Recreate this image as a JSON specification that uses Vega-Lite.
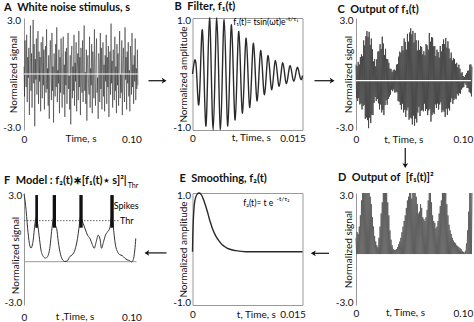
{
"$schema": "https://vega.github.io/schema/vega-lite/v6.json",
"padding": {"left": 2, "top": 0, "right": 0, "bottom": 0},
"columns": 3,
"spacing": {"row": 63, "column": 53.5},
"bounds": "flush",
"config": {
 "font": "Lato",
 "view": {"stroke": null},
 "axis": {"labelFont": "Lato", "labelFontSize": 10, "labelColor": "#111", "titleFont": "Lato", "titleFontSize": 10, "titleFontWeight": "normal", "titleColor": "#111", "grid": false, "ticks": false, "labelFlush": false, "labelOverlap": false},
 "axisY": {"labelFlush": true, "labelFlushOffset": 2.5},
 "title": {"font": "Lato", "fontSize": 11, "fontWeight": "bold", "anchor": "start", "frame": "group", "color": "#111", "baseline": "alphabetic"}
},
"datasets": {
 "noise": [
{"t":0,"v":0.4},{"t":0.5,"v":-1.2},{"t":1,"v":1.8},{"t":1.5,"v":0.3},{"t":2,"v":-0.7},{"t":2.5,"v":2.1},{"t":3,"v":-1.5},{"t":3.5,"v":0.9},{"t":4,"v":-0.2},{"t":4.5,"v":1.4},
{"t":5,"v":-2.2},{"t":5.5,"v":0.6},{"t":6,"v":2.6},{"t":6.5,"v":-0.9},{"t":7,"v":1.1},{"t":7.5,"v":-1.8},{"t":8,"v":0.2},{"t":8.5,"v":2.9},{"t":9,"v":-0.5},{"t":9.5,"v":1.6},
{"t":10,"v":-2.8},{"t":10.5,"v":0.8},{"t":11,"v":-0.3},{"t":11.5,"v":1.9},{"t":12,"v":-1.1},{"t":12.5,"v":0.5},{"t":13,"v":2.3},{"t":13.5,"v":-1.6},{"t":14,"v":1.2},{"t":14.5,"v":-0.4},
{"t":15,"v":0.9},{"t":15.5,"v":-2.0},{"t":16,"v":1.7},{"t":16.5,"v":0.1},{"t":17,"v":-1.3},{"t":17.5,"v":2.0},{"t":18,"v":-0.6},{"t":18.5,"v":1.3},{"t":19,"v":-1.9},{"t":19.5,"v":0.7},
{"t":20,"v":1.5},{"t":20.5,"v":-1.0},{"t":21,"v":2.4},{"t":21.5,"v":-0.8},{"t":22,"v":0.3},{"t":22.5,"v":-1.7},{"t":23,"v":1.0},{"t":23.5,"v":-2.4},{"t":24,"v":0.6},{"t":24.5,"v":1.8},
{"t":25,"v":-0.2},{"t":25.5,"v":-1.4},{"t":26,"v":2.2},{"t":26.5,"v":-0.9},{"t":27,"v":0.4},{"t":27.5,"v":-2.6},{"t":28,"v":1.1},{"t":28.5,"v":0.0},{"t":29,"v":-1.2},{"t":29.5,"v":1.6},
{"t":30,"v":-0.7},{"t":30.5,"v":2.5},{"t":31,"v":-1.5},{"t":31.5,"v":0.2},{"t":32,"v":-0.5},{"t":32.5,"v":1.3},{"t":33,"v":-2.1},{"t":33.5,"v":0.9},{"t":34,"v":-1.0},{"t":34.5,"v":1.9},
{"t":35,"v":-0.3},{"t":35.5,"v":-1.8},{"t":36,"v":0.7},{"t":36.5,"v":2.0},{"t":37,"v":-1.1},{"t":37.5,"v":0.5},{"t":38,"v":-2.3},{"t":38.5,"v":1.2},{"t":39,"v":-0.6},{"t":39.5,"v":1.4},
{"t":40,"v":-1.6},{"t":40.5,"v":0.3},{"t":41,"v":2.2},{"t":41.5,"v":-0.8},{"t":42,"v":-0.1},{"t":42.5,"v":-1.9},{"t":43,"v":1.0},{"t":43.5,"v":-2.7},{"t":44,"v":0.8},{"t":44.5,"v":1.5},
{"t":45,"v":-1.3},{"t":45.5,"v":0.4},{"t":46,"v":-0.9},{"t":46.5,"v":2.1},{"t":47,"v":-1.7},{"t":47.5,"v":0.6},{"t":48,"v":-0.4},{"t":48.5,"v":1.7},{"t":49,"v":-2.0},{"t":49.5,"v":0.2},
{"t":50,"v":1.1},{"t":50.5,"v":-1.4},{"t":51,"v":2.3},{"t":51.5,"v":-0.7},{"t":52,"v":0.9},{"t":52.5,"v":-2.2},{"t":53,"v":1.4},{"t":53.5,"v":-0.2},{"t":54,"v":-1.0},{"t":54.5,"v":1.8},
{"t":55,"v":-1.5},{"t":55.5,"v":0.5},{"t":56,"v":2.6},{"t":56.5,"v":-0.9},{"t":57,"v":0.1},{"t":57.5,"v":-1.6},{"t":58,"v":1.3},{"t":58.5,"v":-2.5},{"t":59,"v":0.7},{"t":59.5,"v":1.0},
{"t":60,"v":-0.5},{"t":60.5,"v":-1.1},{"t":61,"v":2.0},{"t":61.5,"v":-1.8},{"t":62,"v":0.3},{"t":62.5,"v":-0.6},{"t":63,"v":1.6},{"t":63.5,"v":-2.1},{"t":64,"v":1.2},{"t":64.5,"v":0.4},
{"t":65,"v":-1.3},{"t":65.5,"v":2.4},{"t":66,"v":-0.3},{"t":66.5,"v":-1.7},{"t":67,"v":0.8},{"t":67.5,"v":1.9},{"t":68,"v":-1.0},{"t":68.5,"v":-0.2},{"t":69,"v":-2.4},{"t":69.5,"v":1.1},
{"t":70,"v":0.6},{"t":70.5,"v":-1.5},{"t":71,"v":2.2},{"t":71.5,"v":-0.8},{"t":72,"v":1.4},{"t":72.5,"v":-1.9},{"t":73,"v":0.2},{"t":73.5,"v":1.7},{"t":74,"v":-1.2},{"t":74.5,"v":0.5},
{"t":75,"v":-2.0},{"t":75.5,"v":1.0},{"t":76,"v":-0.4},{"t":76.5,"v":2.1},{"t":77,"v":-1.6},{"t":77.5,"v":0.9},{"t":78,"v":-0.7},{"t":78.5,"v":1.5},{"t":79,"v":-2.3},{"t":79.5,"v":0.3},
{"t":80,"v":1.2},{"t":80.5,"v":-1.1},{"t":81,"v":2.7},{"t":81.5,"v":-0.5},{"t":82,"v":0.7},{"t":82.5,"v":-1.8},{"t":83,"v":1.3},{"t":83.5,"v":-0.1},{"t":84,"v":-1.4},{"t":84.5,"v":2.0},
{"t":85,"v":-0.9},{"t":85.5,"v":0.4},{"t":86,"v":-2.1},{"t":86.5,"v":1.6},{"t":87,"v":-0.6},{"t":87.5,"v":1.1},{"t":88,"v":-1.7},{"t":88.5,"v":0.8},{"t":89,"v":2.3},{"t":89.5,"v":-1.3},
{"t":90,"v":0.0},{"t":90.5,"v":-1.0},{"t":91,"v":1.8},{"t":91.5,"v":-2.2},{"t":92,"v":0.6},{"t":92.5,"v":1.4},{"t":93,"v":-0.8},{"t":93.5,"v":-1.5},{"t":94,"v":2.5},{"t":94.5,"v":-0.3},
{"t":95,"v":0.9},{"t":95.5,"v":-1.9},{"t":96,"v":1.2},{"t":96.5,"v":-0.5},{"t":97,"v":1.7},{"t":97.5,"v":-1.2},{"t":98,"v":0.2},{"t":98.5,"v":-2.0},{"t":99,"v":1.5},{"t":99.5,"v":0.7},
{"t":100,"v":-1.1},{"t":100.5,"v":2.2},{"t":101,"v":-0.7},{"t":101.5,"v":0.5},{"t":102,"v":-1.6},{"t":102.5,"v":1.0},{"t":103,"v":-0.4},{"t":103.5,"v":1.9},{"t":104,"v":-1.4},{"t":104.5,"v":0.3},
{"t":105,"v":-0.8},{"t":105.5,"v":1.3},{"t":106,"v":-0.6}
 ],
 "filter": [
{"t":0,"v":0},{"t":0.35,"v":0.25},{"t":0.625,"v":0},{"t":0.9,"v":-0.55},{"t":1.175,"v":0},{"t":1.45,"v":0.79},{"t":1.725,"v":0},{"t":2.0,"v":-0.93},{"t":2.275,"v":0},{"t":2.55,"v":1.0},
{"t":2.825,"v":0},{"t":3.1,"v":-1.0},{"t":3.375,"v":0},{"t":3.65,"v":1.0},{"t":3.925,"v":0},{"t":4.2,"v":-0.99},{"t":4.475,"v":0},{"t":4.75,"v":0.97},{"t":5.025,"v":0},{"t":5.3,"v":-0.93},
{"t":5.575,"v":0},{"t":5.85,"v":0.88},{"t":6.125,"v":0},{"t":6.4,"v":-0.82},{"t":6.675,"v":0},{"t":6.95,"v":0.76},{"t":7.225,"v":0},{"t":7.5,"v":-0.7},{"t":7.775,"v":0},{"t":8.05,"v":0.64},
{"t":8.325,"v":0},{"t":8.6,"v":-0.6},{"t":8.875,"v":0},{"t":9.15,"v":0.55},{"t":9.425,"v":0},{"t":9.7,"v":-0.48},{"t":9.975,"v":0},{"t":10.25,"v":0.42},{"t":10.525,"v":0},{"t":10.8,"v":-0.37},
{"t":11.075,"v":0},{"t":11.35,"v":0.33},{"t":11.625,"v":0},{"t":11.9,"v":-0.28},{"t":12.175,"v":0},{"t":12.45,"v":0.24},{"t":12.725,"v":0},{"t":13.0,"v":-0.22},{"t":13.275,"v":0},{"t":13.55,"v":0.2},
{"t":13.825,"v":0},{"t":14.1,"v":-0.17},{"t":14.375,"v":0},{"t":14.65,"v":0.15},{"t":14.925,"v":0},{"t":15.2,"v":-0.13},{"t":15.475,"v":0},{"t":15.75,"v":0.12},{"t":16.025,"v":0},{"t":16.3,"v":-0.1},{"t":16.5,"v":-0.03}
 ],
 "outc": [
{"t":0,"v":0.5},{"t":0.5,"v":-1.3},{"t":1,"v":0.42},{"t":1.5,"v":-1.45},{"t":2,"v":0.65},{"t":2.5,"v":-1.29},{"t":3,"v":0.51},{"t":3.5,"v":-1.63},{"t":4,"v":0.9},{"t":4.5,"v":-1.58},
{"t":5,"v":1.05},{"t":5.5,"v":-1.9},{"t":6,"v":0.95},{"t":6.5,"v":-1.71},{"t":7,"v":1.8},{"t":7.5,"v":-1.65},{"t":8,"v":1.53},{"t":8.5,"v":-2.4},{"t":9,"v":2.03},{"t":9.5,"v":-2.33},
{"t":10,"v":2.3},{"t":10.5,"v":-2.47},{"t":11,"v":1.99},{"t":11.5,"v":-2.9},{"t":12,"v":2.26},{"t":12.5,"v":-2.34},{"t":13,"v":1.56},{"t":13.5,"v":-2.63},{"t":14,"v":1.9},{"t":14.5,"v":-2.18},
{"t":15,"v":1.32},{"t":15.5,"v":-2.2},{"t":16,"v":0.67},{"t":16.5,"v":-1.55},{"t":17,"v":0.8},{"t":17.5,"v":-1.23},{"t":18,"v":0.41},{"t":18.5,"v":-1.45},{"t":19,"v":0.79},{"t":19.5,"v":-1.34},
{"t":20,"v":1.2},{"t":20.5,"v":-1.57},{"t":21,"v":1.22},{"t":21.5,"v":-1.9},{"t":22,"v":1.6},{"t":22.5,"v":-1.63},{"t":23,"v":1.34},{"t":23.5,"v":-2.06},{"t":24,"v":2.0},{"t":24.5,"v":-1.92},
{"t":25,"v":1.63},{"t":25.5,"v":-2.2},{"t":26,"v":1.02},{"t":26.5,"v":-1.67},{"t":27,"v":1.35},{"t":27.5,"v":-1.4},{"t":28,"v":0.81},{"t":28.5,"v":-1.65},{"t":29,"v":0.79},{"t":29.5,"v":-1.34},
{"t":30,"v":0.6},{"t":30.5,"v":-1.21},{"t":31,"v":0.29},{"t":31.5,"v":-1.1},{"t":32,"v":0.27},{"t":32.5,"v":-0.84},{"t":33,"v":0.1},{"t":33.5,"v":-0.92},{"t":34,"v":0.2},{"t":34.5,"v":-0.82},
{"t":35,"v":0.24},{"t":35.5,"v":-1.0},{"t":36,"v":0.18},{"t":36.5,"v":-0.95},{"t":37,"v":0.5},{"t":37.5,"v":-0.98},{"t":38,"v":0.53},{"t":38.5,"v":-1.45},{"t":39,"v":0.93},{"t":39.5,"v":-1.48},
{"t":40,"v":1.2},{"t":40.5,"v":-1.66},{"t":41,"v":1.14},{"t":41.5,"v":-1.9},{"t":42,"v":1.5},{"t":42.5,"v":-1.59},{"t":43,"v":1.26},{"t":43.5,"v":-2.06},{"t":44,"v":1.9},{"t":44.5,"v":-1.92},
{"t":45,"v":1.72},{"t":45.5,"v":-2.3},{"t":46,"v":1.3},{"t":46.5,"v":-1.95},{"t":47,"v":2.15},{"t":47.5,"v":-1.79},{"t":48,"v":1.73},{"t":48.5,"v":-2.45},{"t":49,"v":2.22},{"t":49.5,"v":-2.33},
{"t":50,"v":2.45},{"t":50.5,"v":-2.38},{"t":51,"v":2.12},{"t":51.5,"v":-2.7},{"t":52,"v":2.31},{"t":52.5,"v":-2.23},{"t":53,"v":1.68},{"t":53.5,"v":-2.77},{"t":54,"v":2.2},{"t":54.5,"v":-2.39},
{"t":55,"v":1.81},{"t":55.5,"v":-2.6},{"t":56,"v":1.26},{"t":56.5,"v":-2.07},{"t":57,"v":1.8},{"t":57.5,"v":-1.75},{"t":58,"v":1.29},{"t":58.5,"v":-2.25},{"t":59,"v":1.5},{"t":59.5,"v":-1.97},
{"t":60,"v":1.45},{"t":60.5,"v":-1.93},{"t":61,"v":1.05},{"t":61.5,"v":-2.0},{"t":62,"v":1.22},{"t":62.5,"v":-1.59},{"t":63,"v":1.0},{"t":63.5,"v":-1.97},{"t":64,"v":1.6},{"t":64.5,"v":-1.88},
{"t":65,"v":1.54},{"t":65.5,"v":-2.2},{"t":66,"v":1.3},{"t":66.5,"v":-1.95},{"t":67,"v":2.2},{"t":67.5,"v":-1.86},{"t":68,"v":1.73},{"t":68.5,"v":-2.55},{"t":69,"v":1.98},{"t":69.5,"v":-2.2},
{"t":70,"v":1.95},{"t":70.5,"v":-2.06},{"t":71,"v":1.48},{"t":71.5,"v":-2.15},{"t":72,"v":1.5},{"t":72.5,"v":-1.63},{"t":73,"v":0.96},{"t":73.5,"v":-1.82},{"t":74,"v":1.3},{"t":74.5,"v":-1.58},
{"t":75,"v":1.18},{"t":75.5,"v":-1.9},{"t":76,"v":0.88},{"t":76.5,"v":-1.63},{"t":77,"v":1.5},{"t":77.5,"v":-1.51},{"t":78,"v":1.21},{"t":78.5,"v":-2.05},{"t":79,"v":1.6},{"t":79.5,"v":-1.93},
{"t":80,"v":1.85},{"t":80.5,"v":-2.02},{"t":81,"v":1.6},{"t":81.5,"v":-2.3},{"t":82,"v":1.93},{"t":82.5,"v":-1.85},{"t":83,"v":1.41},{"t":83.5,"v":-2.2},{"t":84,"v":1.75},{"t":84.5,"v":-1.84},
{"t":85,"v":1.36},{"t":85.5,"v":-1.95},{"t":86,"v":0.84},{"t":86.5,"v":-1.51},{"t":87,"v":1.15},{"t":87.5,"v":-1.3},{"t":88,"v":0.73},{"t":88.5,"v":-1.6},{"t":89,"v":0.84},{"t":89.5,"v":-1.39},
{"t":90,"v":0.8},{"t":90.5,"v":-1.3},{"t":91,"v":0.54},{"t":91.5,"v":-1.35},{"t":92,"v":0.6},{"t":92.5,"v":-1.06},{"t":93,"v":0.36},{"t":93.5,"v":-1.16},{"t":94,"v":0.5},{"t":94.5,"v":-1.03},
{"t":95,"v":0.28},{"t":95.5,"v":-1.05},{"t":96,"v":0.04},{"t":96.5,"v":-0.83},{"t":97,"v":0.1},{"t":97.5,"v":-0.74},{"t":98,"v":-0.11},{"t":98.5,"v":-0.7},{"t":99,"v":-0.16},{"t":99.5,"v":-0.49},
{"t":100,"v":-0.05},{"t":100.5,"v":-0.58},{"t":101,"v":0.03},{"t":101.5,"v":-0.75},{"t":102,"v":0.17},{"t":102.5,"v":-0.76},{"t":103,"v":0.18},{"t":103.5,"v":-0.97},{"t":104,"v":0.5},{"t":104.5,"v":-1.03},
{"t":105,"v":0.51},{"t":105.5,"v":-1.2},{"t":106,"v":0.39}
 ],
 "outd": [
{"t":0,"v":0.6},{"t":0.5,"v":-0.27},{"t":1,"v":0.9},{"t":1.5,"v":-0.27},{"t":2,"v":0.8},{"t":2.5,"v":-0.27},{"t":3,"v":1.2},{"t":3.5,"v":-0.27},{"t":4,"v":1.8},{"t":4.5,"v":-0.27},
{"t":5,"v":2.6},{"t":5.5,"v":-0.27},{"t":6,"v":3},{"t":6.5,"v":-0.27},{"t":7,"v":3},{"t":7.5,"v":-0.27},{"t":8,"v":3},{"t":8.5,"v":-0.27},{"t":9,"v":3},{"t":9.5,"v":-0.27},
{"t":10,"v":3},{"t":10.5,"v":-0.27},{"t":11,"v":3},{"t":11.5,"v":-0.27},{"t":12,"v":3},{"t":12.5,"v":-0.27},{"t":13,"v":2.8},{"t":13.5,"v":-0.27},{"t":14,"v":2.4},{"t":14.5,"v":-0.27},
{"t":15,"v":1.7},{"t":15.5,"v":-0.27},{"t":16,"v":1.2},{"t":16.5,"v":-0.27},{"t":17,"v":0.7},{"t":17.5,"v":-0.27},{"t":18,"v":0.4},{"t":18.5,"v":-0.27},{"t":19,"v":0.2},{"t":19.5,"v":-0.27},
{"t":20,"v":0.1},{"t":20.5,"v":-0.27},{"t":21,"v":0.6},{"t":21.5,"v":-0.27},{"t":22,"v":1.2},{"t":22.5,"v":-0.27},{"t":23,"v":1.9},{"t":23.5,"v":-0.27},{"t":24,"v":2.5},{"t":24.5,"v":-0.27},
{"t":25,"v":3},{"t":25.5,"v":-0.27},{"t":26,"v":3},{"t":26.5,"v":-0.27},{"t":27,"v":3},{"t":27.5,"v":-0.27},{"t":28,"v":3},{"t":28.5,"v":-0.27},{"t":29,"v":2.5},{"t":29.5,"v":-0.27},
{"t":30,"v":1.8},{"t":30.5,"v":-0.27},{"t":31,"v":1.0},{"t":31.5,"v":-0.27},{"t":32,"v":0.5},{"t":32.5,"v":-0.27},{"t":33,"v":0.2},{"t":33.5,"v":-0.27},{"t":34,"v":0},{"t":34.5,"v":-0.27},
{"t":35,"v":-0.05},{"t":35.5,"v":-0.27},{"t":36,"v":-0.05},{"t":36.5,"v":-0.27},{"t":37,"v":0},{"t":37.5,"v":-0.27},{"t":38,"v":0.1},{"t":38.5,"v":-0.27},{"t":39,"v":0.25},{"t":39.5,"v":-0.27},
{"t":40,"v":0.4},{"t":40.5,"v":-0.27},{"t":41,"v":0.6},{"t":41.5,"v":-0.27},{"t":42,"v":0.9},{"t":42.5,"v":-0.27},{"t":43,"v":1.2},{"t":43.5,"v":-0.27},{"t":44,"v":1.5},{"t":44.5,"v":-0.27},
{"t":45,"v":1.8},{"t":45.5,"v":-0.27},{"t":46,"v":2.2},{"t":46.5,"v":-0.27},{"t":47,"v":2.6},{"t":47.5,"v":-0.27},{"t":48,"v":2.8},{"t":48.5,"v":-0.27},{"t":49,"v":3},{"t":49.5,"v":-0.27},
{"t":50,"v":3},{"t":50.5,"v":-0.27},{"t":51,"v":2.7},{"t":51.5,"v":-0.27},{"t":52,"v":3},{"t":52.5,"v":-0.27},{"t":53,"v":3},{"t":53.5,"v":-0.27},{"t":54,"v":3},{"t":54.5,"v":-0.27},
{"t":55,"v":2.8},{"t":55.5,"v":-0.27},{"t":56,"v":2.4},{"t":56.5,"v":-0.27},{"t":57,"v":1.9},{"t":57.5,"v":-0.27},{"t":58,"v":2.0},{"t":58.5,"v":-0.27},{"t":59,"v":2.4},{"t":59.5,"v":-0.27},
{"t":60,"v":2.2},{"t":60.5,"v":-0.27},{"t":61,"v":1.7},{"t":61.5,"v":-0.27},{"t":62,"v":1.6},{"t":62.5,"v":-0.27},{"t":63,"v":1.5},{"t":63.5,"v":-0.27},{"t":64,"v":1.7},{"t":64.5,"v":-0.27},
{"t":65,"v":2.1},{"t":65.5,"v":-0.27},{"t":66,"v":2.6},{"t":66.5,"v":-0.27},{"t":67,"v":3},{"t":67.5,"v":-0.27},{"t":68,"v":3},{"t":68.5,"v":-0.27},{"t":69,"v":2.5},{"t":69.5,"v":-0.27},
{"t":70,"v":1.8},{"t":70.5,"v":-0.27},{"t":71,"v":1.5},{"t":71.5,"v":-0.27},{"t":72,"v":1.4},{"t":72.5,"v":-0.27},{"t":73,"v":1.1},{"t":73.5,"v":-0.27},{"t":74,"v":1.2},{"t":74.5,"v":-0.27},
{"t":75,"v":1.5},{"t":75.5,"v":-0.27},{"t":76,"v":1.9},{"t":76.5,"v":-0.27},{"t":77,"v":2.3},{"t":77.5,"v":-0.27},{"t":78,"v":2.6},{"t":78.5,"v":-0.27},{"t":79,"v":3},{"t":79.5,"v":-0.27},
{"t":80,"v":3},{"t":80.5,"v":-0.27},{"t":81,"v":3},{"t":81.5,"v":-0.27},{"t":82,"v":3},{"t":82.5,"v":-0.27},{"t":83,"v":2.4},{"t":83.5,"v":-0.27},{"t":84,"v":1.8},{"t":84.5,"v":-0.27},
{"t":85,"v":1.3},{"t":85.5,"v":-0.27},{"t":86,"v":1.0},{"t":86.5,"v":-0.27},{"t":87,"v":0.8},{"t":87.5,"v":-0.27},{"t":88,"v":0.6},{"t":88.5,"v":-0.27},{"t":89,"v":0.45},{"t":89.5,"v":-0.27},
{"t":90,"v":0.35},{"t":90.5,"v":-0.27},{"t":91,"v":0.3},{"t":91.5,"v":-0.27},{"t":92,"v":0.2},{"t":92.5,"v":-0.27},{"t":93,"v":0.15},{"t":93.5,"v":-0.27},{"t":94,"v":0.1},{"t":94.5,"v":-0.27},
{"t":95,"v":0.05},{"t":95.5,"v":-0.27},{"t":96,"v":0},{"t":96.5,"v":-0.27},{"t":97,"v":-0.1},{"t":97.5,"v":-0.27},{"t":98,"v":-0.15},{"t":98.5,"v":-0.27},{"t":99,"v":-0.2},{"t":99.5,"v":-0.27},
{"t":100,"v":-0.1},{"t":100.5,"v":-0.27},{"t":101,"v":0.3},{"t":101.5,"v":-0.27},{"t":102,"v":1.0},{"t":102.5,"v":-0.27},{"t":103,"v":2.0},{"t":103.5,"v":-0.27},{"t":104,"v":3},{"t":104.5,"v":-0.27},
{"t":105,"v":3},{"t":105.5,"v":-0.27},{"t":106,"v":3}
 ],
 "smooth": [
{"t":0,"v":-0.05},{"t":0.05,"v":0.25},{"t":0.12,"v":0.5},{"t":0.26,"v":0.78},{"t":0.5,"v":0.93},{"t":0.75,"v":0.985},{"t":1.0,"v":1.0},{"t":1.25,"v":0.98},{"t":1.5,"v":0.93},{"t":1.75,"v":0.85},
{"t":2.0,"v":0.76},{"t":2.25,"v":0.66},{"t":2.5,"v":0.55},{"t":2.75,"v":0.45},{"t":3.0,"v":0.36},{"t":3.5,"v":0.23},{"t":4.0,"v":0.14},{"t":4.5,"v":0.07},{"t":5.0,"v":0.03},{"t":5.5,"v":0.0},
{"t":6.5,"v":-0.03},{"t":8.0,"v":-0.05},{"t":16.5,"v":-0.05}
 ],
 "model": [
{"t":0,"v":2.95},{"t":1.5,"v":2.35},{"t":3.4,"v":1.1},{"t":5.0,"v":0.3},{"t":6.5,"v":0.05},{"t":8.5,"v":0.45},{"t":10.2,"v":1.35},{"t":11.5,"v":1.7},{"t":12.7,"v":1.35},{"t":14.0,"v":0.74},
{"t":15.8,"v":-0.05},{"t":18.0,"v":-0.4},{"t":20.1,"v":-0.49},{"t":22.0,"v":-0.4},{"t":24.2,"v":0.13},{"t":25.7,"v":0.95},{"t":27.9,"v":1.7},{"t":29.4,"v":1.25},{"t":30.4,"v":1.1},{"t":31.9,"v":0.39},
{"t":34.1,"v":-0.31},{"t":35.9,"v":-0.58},{"t":38.1,"v":-0.67},{"t":40.3,"v":-0.63},{"t":42.7,"v":-0.4},{"t":44.9,"v":-0.31},{"t":47.4,"v":-0.05},{"t":49.8,"v":0.57},{"t":51.1,"v":1.1},{"t":52.6,"v":1.7},
{"t":54.2,"v":1.5},{"t":55.1,"v":1.36},{"t":57.3,"v":1.01},{"t":59.1,"v":0.74},{"t":61.3,"v":0.57},{"t":63.5,"v":0.25},{"t":65.3,"v":0.04},{"t":67.2,"v":0.39},{"t":69.0,"v":0.74},{"t":70.9,"v":0.48},
{"t":72.1,"v":0.04},{"t":74.0,"v":0.39},{"t":75.8,"v":0.74},{"t":77.7,"v":0.92},{"t":79.9,"v":1.13},{"t":81.4,"v":1.7},{"t":83.0,"v":1.25},{"t":83.9,"v":0.74},{"t":85.1,"v":0.21},{"t":87.0,"v":-0.14},
{"t":89.2,"v":-0.31},{"t":91.3,"v":-0.35},{"t":93.8,"v":-0.49},{"t":96.0,"v":-0.58},{"t":98.5,"v":-0.63},{"t":100.0,"v":-0.7},{"t":101.6,"v":-0.58},{"t":103.1,"v":-0.05},{"t":104.0,"v":0.57}
 ],
 "spikes": [
{"t0":10.5,"t1":13.0},{"t0":26.7,"t1":29.8},{"t0":51.5,"t1":54.6},{"t0":80.3,"t1":83.5}
 ]
},
"concat": [
 {
  "width": 115, "height": 112,
  "title": {"text": "A\u2002White noise stimulus, s", "dx": -20, "offset": 3},
  "layer": [
   {"data": {"name": "noise"}, "mark": {"type": "line", "color": "#111", "strokeWidth": 0.8, "opacity": 0.6},
    "encoding": {
     "x": {"field": "t", "type": "quantitative", "scale": {"domain": [0, 107], "nice": false, "zero": false},
       "axis": {"values": [0, 100], "labelExpr": "datum.value == 0 ? '0' : '0.10'", "domain": false, "labelPadding": 4, "title": "Time, s", "titleX": 56.5, "titleY": 8.5, "titleBaseline": "middle", "titleAlign": "center"}},
     "y": {"field": "v", "type": "quantitative", "scale": {"domain": [-3, 3], "nice": false},
       "axis": {"values": [-3, 3], "labelExpr": "replace(format(datum.value, '.1f'), '\u2212', '-')", "domain": true, "domainColor": "#999", "labelPadding": 3.5, "title": "Normalized signal", "titleX": -11, "titleY": 56, "titleAngle": -90, "titleAlign": "center", "titleBaseline": "middle"}}
    }},
   {"data": {"values": [{}]}, "mark": {"type": "rule", "color": "white", "strokeWidth": 1.2},
    "encoding": {
     "x": {"datum": 0, "type": "quantitative", "scale": {"domain": [0, 107], "nice": false, "zero": false}},
     "x2": {"datum": 106},
     "y": {"datum": 0, "type": "quantitative", "scale": {"domain": [-3, 3], "nice": false}}
    }},
   {"data": {"values": [{}]}, "mark": {"type": "text", "text": "Thr", "align": "left", "baseline": "alphabetic", "fontSize": 7, "font": "Lato"},
    "encoding": {
     "x": {"datum": 96.5, "type": "quantitative", "scale": {"domain": [0, 107], "nice": false, "zero": false}},
     "y": {"datum": -6.1, "type": "quantitative", "scale": {"domain": [-3, 3], "nice": false}}
    }}
  ]
 },
 {
  "width": 110, "height": 112,
  "view": {"stroke": "#999"},
  "title": {"text": "B\u2002Filter, f\u2081(t)", "dx": -18, "offset": 3},
  "layer": [
   {"data": {"name": "filter"}, "mark": {"type": "line", "color": "#2a2a2a", "strokeWidth": 1.4, "interpolate": "natural"},
    "encoding": {
     "x": {"field": "t", "type": "quantitative", "scale": {"domain": [0, 16.5], "nice": false, "zero": false},
       "axis": {"values": [0, 15], "labelExpr": "datum.value == 0 ? '0' : '0.015'", "domain": false, "labelPadding": 3.2, "title": "t, Time, s", "titleX": 58.4, "titleY": 7.7, "titleBaseline": "middle", "titleAlign": "center"}},
     "y": {"field": "v", "type": "quantitative", "scale": {"domain": [-1, 1], "nice": false},
       "axis": {"values": [-1, 1], "labelExpr": "replace(format(datum.value, '.1f'), '\u2212', '-')", "domain": false, "labelPadding": 2, "title": "Normalized amplitude", "titleX": -9, "titleY": 56, "titleAngle": -90, "titleAlign": "center", "titleBaseline": "middle"}}
    }},
   {"data": {"values": [{}]}, "mark": {"type": "text", "text": "f\u2081(t)= tsin(\u03c9t)e", "align": "left", "baseline": "alphabetic", "fontSize": 8.5, "font": "Lato"},
    "encoding": {
     "x": {"datum": 6.1, "type": "quantitative", "scale": {"domain": [0, 16.5], "nice": false, "zero": false}},
     "y": {"datum": 0.875, "type": "quantitative", "scale": {"domain": [-1, 1], "nice": false}}
    }},
   {"data": {"values": [{}]}, "mark": {"type": "text", "text": "-t/\u03c4\u2081", "align": "left", "baseline": "alphabetic", "fontSize": 6.5, "font": "Lato"},
    "encoding": {
     "x": {"datum": 13.95, "type": "quantitative", "scale": {"domain": [0, 16.5], "nice": false, "zero": false}},
     "y": {"datum": 0.95, "type": "quantitative", "scale": {"domain": [-1, 1], "nice": false}}
    }},
   {"data": {"values": [{}]}, "mark": {"type": "rule", "color": "#111", "strokeWidth": 1.2},
    "encoding": {
     "x": {"datum": -6.6, "type": "quantitative", "scale": {"domain": [0, 16.5], "nice": false, "zero": false}},
     "x2": {"datum": -4.2},
     "y": {"datum": -0.12, "type": "quantitative", "scale": {"domain": [-1, 1], "nice": false}}
    }},
   {"data": {"values": [{}]}, "mark": {"type": "point", "shape": "M0,0L-1,-0.6L-0.75,0L-1,0.6Z", "filled": true, "color": "#111", "opacity": 1, "size": 90, "angle": 0},
    "encoding": {
     "x": {"datum": -3.9, "type": "quantitative", "scale": {"domain": [0, 16.5], "nice": false, "zero": false}},
     "y": {"datum": -0.12, "type": "quantitative", "scale": {"domain": [-1, 1], "nice": false}}
    }},
   {"data": {"values": [{}]}, "mark": {"type": "rule", "color": "#111", "strokeWidth": 1.2},
    "encoding": {
     "x": {"datum": 18.3, "type": "quantitative", "scale": {"domain": [0, 16.5], "nice": false, "zero": false}},
     "x2": {"datum": 21.0},
     "y": {"datum": -0.12, "type": "quantitative", "scale": {"domain": [-1, 1], "nice": false}}
    }},
   {"data": {"values": [{}]}, "mark": {"type": "point", "shape": "M0,0L-1,-0.6L-0.75,0L-1,0.6Z", "filled": true, "color": "#111", "opacity": 1, "size": 90, "angle": 0},
    "encoding": {
     "x": {"datum": 21.3, "type": "quantitative", "scale": {"domain": [0, 16.5], "nice": false, "zero": false}},
     "y": {"datum": -0.12, "type": "quantitative", "scale": {"domain": [-1, 1], "nice": false}}
    }}
  ]
 },
 {
  "width": 116, "height": 112,
  "title": {"text": "C\u2002Output of f\u2081(t)", "dx": -18.5, "offset": 0.7},
  "layer": [
   {"data": {"name": "outc"}, "mark": {"type": "line", "color": "#444", "strokeWidth": 0.9},
    "encoding": {
     "x": {"field": "t", "type": "quantitative", "scale": {"domain": [0, 106], "nice": false, "zero": false},
       "axis": {"values": [0, 100], "labelExpr": "datum.value == 0 ? '0' : '0.10'", "labelOffset": {"condition": {"test": "datum.value > 50", "value": -2.5}, "value": 0}, "domain": false, "labelPadding": 4.8, "title": "t, Time, s", "titleX": 47.3, "titleY": 9.3, "titleBaseline": "middle", "titleAlign": "center"}},
     "y": {"field": "v", "type": "quantitative", "scale": {"domain": [-3, 3], "nice": false},
       "axis": {"values": [-3, 3], "labelExpr": "replace(format(datum.value, '.1f'), '\u2212', '-')", "domain": true, "domainColor": "#999", "labelPadding": 3, "title": "Normalized signal", "titleX": -7.2, "titleY": 56, "titleAngle": -90, "titleAlign": "center", "titleBaseline": "middle"}}
    }},
   {"data": {"values": [{}]}, "mark": {"type": "rule", "color": "white", "strokeWidth": 1.2},
    "encoding": {
     "x": {"datum": 0, "type": "quantitative", "scale": {"domain": [0, 106], "nice": false, "zero": false}},
     "x2": {"datum": 105},
     "y": {"datum": -0.35, "type": "quantitative", "scale": {"domain": [-3, 3], "nice": false}}
    }},
   {"data": {"values": [{}]}, "mark": {"type": "rule", "color": "#111", "strokeWidth": 1.2},
    "encoding": {
     "x": {"datum": 45, "type": "quantitative", "scale": {"domain": [0, 106], "nice": false, "zero": false}},
     "y": {"datum": -3.96, "type": "quantitative", "scale": {"domain": [-3, 3], "nice": false}},
     "y2": {"datum": -4.85}
    }},
   {"data": {"values": [{}]}, "mark": {"type": "point", "shape": "M0,0L-1,-0.6L-0.75,0L-1,0.6Z", "filled": true, "color": "#111", "opacity": 1, "size": 90, "angle": 90},
    "encoding": {
     "x": {"datum": 45, "type": "quantitative", "scale": {"domain": [0, 106], "nice": false, "zero": false}},
     "y": {"datum": -5.03, "type": "quantitative", "scale": {"domain": [-3, 3], "nice": false}}
    }}
  ]
 },
 {
  "width": 115, "height": 112,
  "title": {"text": "F\u2002Model : f\u2082(t)\u2217[f\u2081(t)\u22c6 s]\u00b2|", "dx": -20, "offset": 4.5},
  "layer": [
   {"data": {"values": [{}]}, "mark": {"type": "rule", "color": "#999", "strokeWidth": 1},
    "encoding": {
     "x": {"datum": 0, "type": "quantitative", "scale": {"domain": [0, 107], "nice": false, "zero": false}},
     "x2": {"datum": 104.6},
     "y": {"datum": -0.68, "type": "quantitative", "scale": {"domain": [-3, 3], "nice": false}}
    }},
   {"data": {"values": [{}]}, "mark": {"type": "rule", "color": "#444", "strokeWidth": 0.8, "strokeDash": [1.5, 1.5]},
    "encoding": {
     "x": {"datum": 0, "type": "quantitative", "scale": {"domain": [0, 107], "nice": false, "zero": false}},
     "x2": {"datum": 88.4},
     "y": {"datum": 1.52, "type": "quantitative", "scale": {"domain": [-3, 3], "nice": false}}
    }},
   {"data": {"name": "model"}, "mark": {"type": "line", "color": "#333", "strokeWidth": 1, "interpolate": "monotone"},
    "encoding": {
     "x": {"field": "t", "type": "quantitative", "scale": {"domain": [0, 107], "nice": false, "zero": false},
       "axis": {"values": [0, 100], "labelExpr": "datum.value == 0 ? '0' : '0.10'", "domain": false, "labelPadding": 7.2, "title": "t ,Time, s", "titleX": 50.5, "titleY": 11.7, "titleBaseline": "middle", "titleAlign": "center"}},
     "y": {"field": "v", "type": "quantitative", "scale": {"domain": [-3, 3], "nice": false},
       "axis": {"values": [-3, 3], "labelExpr": "replace(format(datum.value, '.1f'), '\u2212', '-')", "domain": true, "domainColor": "#999", "labelPadding": 2.3, "title": "Normalized signal", "titleX": -9, "titleY": 62, "titleAngle": -90, "titleAlign": "center", "titleBaseline": "middle"}}
    }},
   {"data": {"name": "spikes"}, "mark": {"type": "rect", "color": "#111"},
    "encoding": {
     "x": {"field": "t0", "type": "quantitative", "scale": {"domain": [0, 107], "nice": false, "zero": false}},
     "x2": {"field": "t1"},
     "y": {"datum": 1.14, "type": "quantitative", "scale": {"domain": [-3, 3], "nice": false}},
     "y2": {"datum": 2.89}
    }},
   {"data": {"values": [{}]}, "mark": {"type": "text", "text": "Spikes", "align": "left", "baseline": "middle", "fontSize": 9, "font": "Lato"},
    "encoding": {
     "x": {"datum": 83.5, "type": "quantitative", "scale": {"domain": [0, 107], "nice": false, "zero": false}},
     "y": {"datum": 2.28, "type": "quantitative", "scale": {"domain": [-3, 3], "nice": false}}
    }},
   {"data": {"values": [{}]}, "mark": {"type": "text", "text": "Thr", "align": "left", "baseline": "middle", "fontSize": 9, "font": "Lato"},
    "encoding": {
     "x": {"datum": 89.4, "type": "quantitative", "scale": {"domain": [0, 107], "nice": false, "zero": false}},
     "y": {"datum": 1.52, "type": "quantitative", "scale": {"domain": [-3, 3], "nice": false}}
    }}
  ]
 },
 {
  "width": 110, "height": 112,
  "view": {"stroke": "#999"},
  "title": {"text": "E\u2002Smoothing, f\u2082(t)", "dx": -13, "offset": 6.5},
  "layer": [
   {"data": {"name": "smooth"}, "mark": {"type": "line", "color": "#2a2a2a", "strokeWidth": 1.4, "interpolate": "monotone"},
    "encoding": {
     "x": {"field": "t", "type": "quantitative", "scale": {"domain": [0, 16.5], "nice": false, "zero": false},
       "axis": {"values": [0, 15], "labelExpr": "datum.value == 0 ? '0' : '0.015'", "domain": false, "labelPadding": 4.8, "title": "t, Time, s", "titleX": 63.4, "titleY": 9.3, "titleBaseline": "middle", "titleAlign": "center"}},
     "y": {"field": "v", "type": "quantitative", "scale": {"domain": [-1, 1], "nice": false},
       "axis": {"values": [-1, 1], "labelExpr": "replace(format(datum.value, '.1f'), '\u2212', '-')", "domain": false, "labelPadding": 2, "title": "Normalized amplitude", "titleX": -9, "titleY": 56, "titleAngle": -90, "titleAlign": "center", "titleBaseline": "middle"}}
    }},
   {"data": {"values": [{}]}, "mark": {"type": "text", "text": "f\u2082(t)= t e", "align": "left", "baseline": "alphabetic", "fontSize": 8.5, "font": "Lato"},
    "encoding": {
     "x": {"datum": 7.6, "type": "quantitative", "scale": {"domain": [0, 16.5], "nice": false, "zero": false}},
     "y": {"datum": 0.77, "type": "quantitative", "scale": {"domain": [-1, 1], "nice": false}}
    }},
   {"data": {"values": [{}]}, "mark": {"type": "text", "text": "-t/\u03c4\u2082", "align": "left", "baseline": "alphabetic", "fontSize": 6.5, "font": "Lato"},
    "encoding": {
     "x": {"datum": 12.6, "type": "quantitative", "scale": {"domain": [0, 16.5], "nice": false, "zero": false}},
     "y": {"datum": 0.86, "type": "quantitative", "scale": {"domain": [-1, 1], "nice": false}}
    }},
   {"data": {"values": [{}]}, "mark": {"type": "rule", "color": "#111", "strokeWidth": 1.2},
    "encoding": {
     "x": {"datum": -3.9, "type": "quantitative", "scale": {"domain": [0, 16.5], "nice": false, "zero": false}},
     "x2": {"datum": -6.9},
     "y": {"datum": -0.07, "type": "quantitative", "scale": {"domain": [-1, 1], "nice": false}}
    }},
   {"data": {"values": [{}]}, "mark": {"type": "point", "shape": "M0,0L-1,-0.6L-0.75,0L-1,0.6Z", "filled": true, "color": "#111", "opacity": 1, "size": 90, "angle": 180},
    "encoding": {
     "x": {"datum": -7.2, "type": "quantitative", "scale": {"domain": [0, 16.5], "nice": false, "zero": false}},
     "y": {"datum": -0.07, "type": "quantitative", "scale": {"domain": [-1, 1], "nice": false}}
    }}
  ]
 },
 {
  "width": 116, "height": 112,
  "title": {"text": "D\u2002Output of\u2002[f\u2081(t)]\u00b2", "dx": -18, "offset": 7.8},
  "layer": [
   {"data": {"name": "outd"}, "mark": {"type": "line", "color": "#5a5a5a", "strokeWidth": 0.9},
    "encoding": {
     "x": {"field": "t", "type": "quantitative", "scale": {"domain": [0, 106], "nice": false, "zero": false},
       "axis": {"values": [0, 100], "labelExpr": "datum.value == 0 ? '0' : '0.10'", "labelOffset": {"condition": {"test": "datum.value > 50", "value": -2.5}, "value": 0}, "domain": false, "labelPadding": 3, "title": "t, Time, s", "titleX": 49, "titleY": 7.5, "titleBaseline": "middle", "titleAlign": "center"}},
     "y": {"field": "v", "type": "quantitative", "scale": {"domain": [-3, 3], "nice": false},
       "axis": {"values": [-3, 3], "labelExpr": "replace(format(datum.value, '.1f'), '\u2212', '-')", "domain": true, "domainColor": "#999", "labelPadding": 3, "title": "Normalized signal", "titleX": -7.2, "titleY": 56, "titleAngle": -90, "titleAlign": "center", "titleBaseline": "middle"}}
    }},
   {"data": {"values": [{}]}, "mark": {"type": "rule", "color": "#111", "strokeWidth": 1.2},
    "encoding": {
     "x": {"datum": -24.7, "type": "quantitative", "scale": {"domain": [0, 106], "nice": false, "zero": false}},
     "x2": {"datum": -40.5},
     "y": {"datum": -0.23, "type": "quantitative", "scale": {"domain": [-3, 3], "nice": false}}
    }},
   {"data": {"values": [{}]}, "mark": {"type": "point", "shape": "M0,0L-1,-0.6L-0.75,0L-1,0.6Z", "filled": true, "color": "#111", "opacity": 1, "size": 90, "angle": 180},
    "encoding": {
     "x": {"datum": -41.1, "type": "quantitative", "scale": {"domain": [0, 106], "nice": false, "zero": false}},
     "y": {"datum": -0.23, "type": "quantitative", "scale": {"domain": [-3, 3], "nice": false}}
    }}
  ]
 }
]
}
